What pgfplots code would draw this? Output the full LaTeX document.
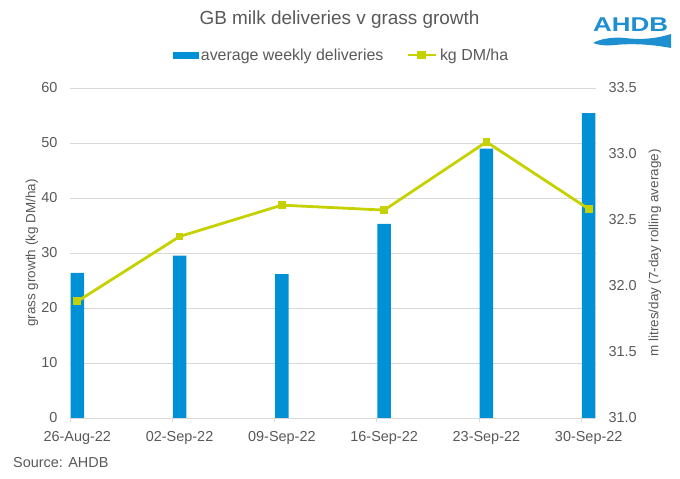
\documentclass[border=0pt]{standalone}
\usepackage{pgfplots}
\pgfplotsset{compat=1.18}
\usepackage{fontspec}
\setmainfont{Liberation Sans}

\definecolor{barblue}{HTML}{0090D5}
\definecolor{lineyg}{HTML}{C5D100}
\definecolor{gridgray}{HTML}{D9D9D9}
\definecolor{txtgray}{HTML}{595959}
\definecolor{logoblue}{HTML}{1E8FD0}

% weekly values, x = days from 26-Aug-22 (bars/points centred in their day)
\pgfplotstableread{
x    deliv
0.5  32.10
7.5  32.23
14.5 32.09
21.5 32.47
28.5 33.04
35.5 33.31
}\deliveries
\pgfplotstableread{
x    grass
0.5  21.2
7.5  33.0
14.5 38.7
21.5 37.8
28.5 50.2
35.5 38.0
}\grass

\pgfplotsset{
  common/.style={
    scale only axis, width=526bp, height=330bp,
    at={(0,0)}, anchor=south west,
    xmin=0, xmax=36,
    /pgf/number format/assume math mode=true,
    ticklabel style={font=\fontsize{14.5}{17}\selectfont, text=txtgray},
    label style={font=\fontsize{13.5}{16}\selectfont, text=txtgray},
    major tick length=0pt,
  },
}

\begin{document}
\begin{tikzpicture}[x=1bp,y=1bp]
\useasboundingbox (-70,-61) rectangle (610,418);

% grid, left scale and date axis
\begin{axis}[common,
  ymin=0, ymax=60, ytick={0,10,...,60},
  ymajorgrids, major grid style={gridgray, line width=0.8bp},
  axis x line*=bottom, axis y line*=left,
  x axis line style={draw=gridgray, line width=0.8bp, -},
  y axis line style={draw=none},
  xtick={0.5,7.5,14.5,21.5,28.5,35.5},
  xticklabels={26-Aug-22,02-Sep-22,09-Sep-22,16-Sep-22,23-Sep-22,30-Sep-22},
  minor xtick={0,7,14,21,28,35},
  minor tick length=4bp, tick align=outside,
  minor tick style={draw=gridgray, line width=0.8bp},
  xticklabel style={yshift=-10bp},
  yticklabel style={xshift=-9bp},
  ylabel={grass growth (kg DM/ha)},
  ylabel style={at={(axis description cs:-0.0722,0.5)}, anchor=center},
]
\addplot[draw=none] coordinates {(0,0)};
\end{axis}

% milk deliveries on the right scale
\begin{axis}[common,
  ymin=31, ymax=33.5, ytick={31,31.5,...,33.5},
  axis y line*=right, axis x line=none,
  y axis line style={draw=none},
  yticklabel style={/pgf/number format/fixed, /pgf/number format/fixed zerofill,
    /pgf/number format/precision=1, xshift=9bp},
  ylabel={m litres/day (7-day rolling average)},
  ylabel style={at={(axis description cs:1.112,0.5)}, anchor=center},
  clip=true,
]
\addplot[ybar, bar width=0.92, fill=barblue, draw=none, bar shift=0pt]
  table[x=x, y=deliv] {\deliveries};
\end{axis}

% grass growth line on the left scale, plus legend
\begin{axis}[common,
  ymin=0, ymax=60, hide axis, clip=false,
  legend columns=2,
  legend style={at={(axis description cs:0.514,1.100)}, anchor=center,
    draw=none, fill=none, text=txtgray,
    font=\fontsize{16}{19}\selectfont,
    nodes={inner sep=0pt},
    /tikz/every odd column/.append style={column sep=3bp},
    /tikz/every even column/.append style={column sep=23bp}},
]
\addlegendimage{legend image code/.code={
  \fill[barblue] (0bp,-3bp) rectangle (25bp,3bp);}}
\addlegendentry{average weekly deliveries}
\addplot[lineyg, line width=2.8bp, mark=square*, mark size=3.4bp,
  mark options={fill=lineyg, draw=lineyg, line width=0pt},
  legend image code/.code={
    \draw[lineyg, line width=2.6bp] (0bp,0bp) -- (28bp,0bp);
    \fill[lineyg] (11bp,-3bp) rectangle (17bp,3bp);}]
  table[x=x, y=grass] {\grass};
\addlegendentry{kg DM/ha}
\end{axis}

% title, source note and logo
\node[text=txtgray, font=\fontsize{19}{22}\selectfont] at (269.5,398) {GB milk deliveries v grass growth};
\node[text=txtgray, font=\fontsize{14.5}{17}\selectfont, anchor=west, inner sep=0pt] at (-57,-45) {Source: AHDB};
\node[text=logoblue, font=\fontsize{20}{24}\selectfont\bfseries, anchor=base west, inner sep=0pt]
  at (523,386) {\scalebox{1.3}[1]{AHDB}};
\fill[logoblue] (523,375) .. controls (532,380) and (545,381) .. (555,380)
  .. controls (570,378) and (585,379) .. (601,384) -- (601,370)
  .. controls (585,373) and (565,375) .. (545,373)
  .. controls (535,372) and (528,373) .. (523,375) -- cycle;
\end{tikzpicture}
\end{document}
